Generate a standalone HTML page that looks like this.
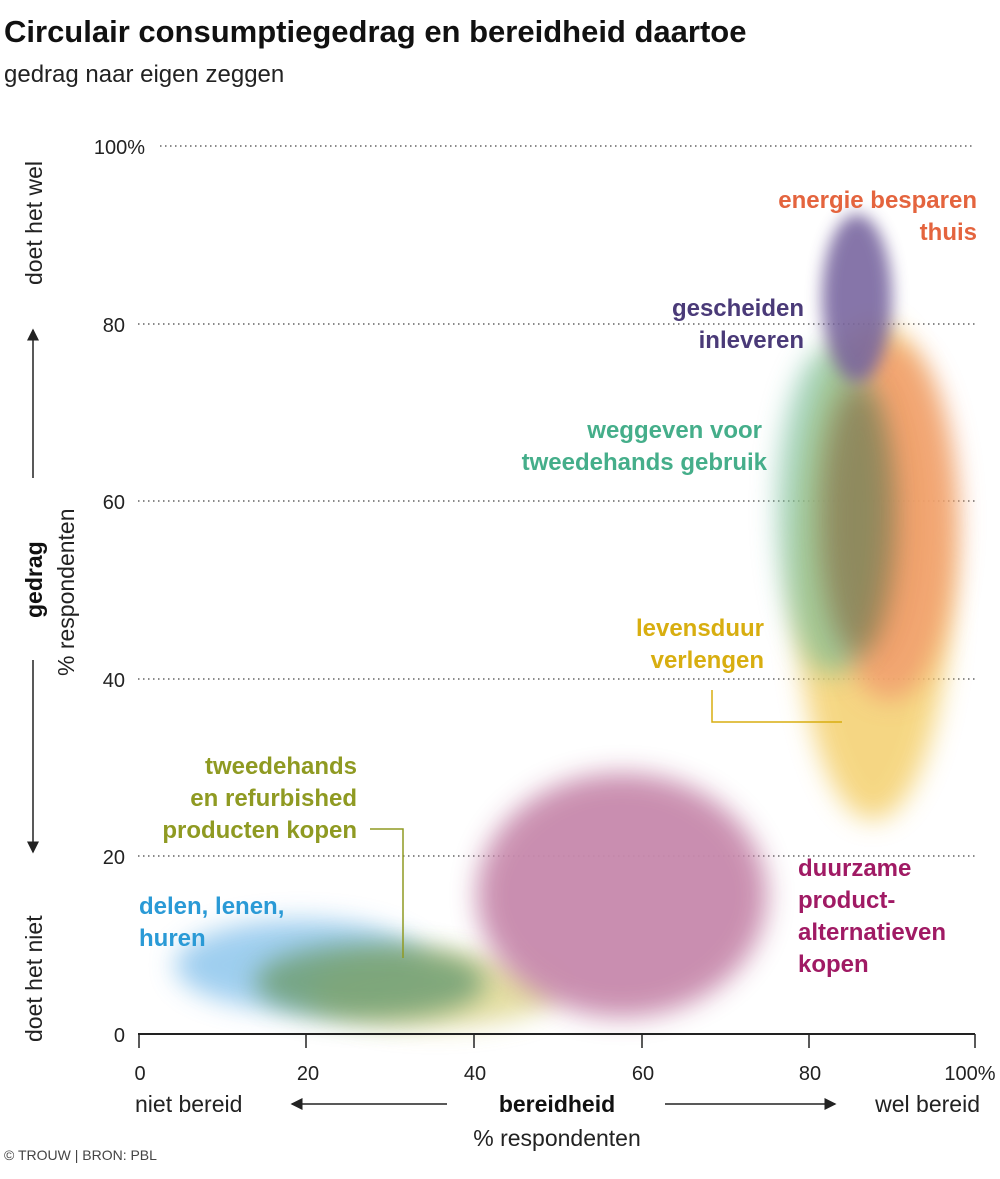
<!DOCTYPE html>
<html><head><meta charset="utf-8"><style>
body{margin:0;background:#fff}
svg text{font-family:"Liberation Sans",sans-serif}
</style></head><body>
<svg width="1000" height="1174" viewBox="0 0 1000 1174" xmlns="http://www.w3.org/2000/svg">
<defs>
<filter id="b" x="-50%" y="-50%" width="200%" height="200%"><feGaussianBlur stdDeviation="13"/></filter>
<filter id="b2" x="-50%" y="-50%" width="200%" height="200%"><feGaussianBlur stdDeviation="8"/></filter>
<marker id="ar" markerWidth="8" markerHeight="8" refX="7" refY="4" orient="auto"><path d="M0,0 L8,4 L0,8z" fill="#222"/></marker>
</defs>
<text x="4" y="42" font-size="31" font-weight="bold" fill="#111">Circulair consumptiegedrag en bereidheid daartoe</text>
<text x="4" y="82" font-size="24" fill="#222">gedrag naar eigen zeggen</text>
<g stroke="#444" stroke-width="1.3" stroke-dasharray="1.5,3.5">
<line x1="160" y1="146" x2="975" y2="146"/><line x1="138" y1="324" x2="975" y2="324"/>
<line x1="138" y1="501" x2="975" y2="501"/><line x1="138" y1="679" x2="975" y2="679"/>
<line x1="138" y1="856" x2="975" y2="856"/>
</g>
<g font-size="20" fill="#222" text-anchor="end">
<text x="145" y="154">100%</text><text x="125" y="332">80</text><text x="125" y="509">60</text>
<text x="125" y="687">40</text><text x="125" y="864">20</text><text x="125" y="1042">0</text>
</g>
<g>
<ellipse cx="300" cy="965" rx="125" ry="45" fill="#94c9ee" opacity="0.9" filter="url(#b)"/>
<ellipse cx="435" cy="990" rx="125" ry="36" fill="#ddd58a" opacity="0.8" filter="url(#b)"/>
<ellipse cx="370" cy="982" rx="115" ry="38" fill="#6f9f74" opacity="0.85" filter="url(#b)"/>
<ellipse cx="622" cy="895" rx="145" ry="122" fill="#c789ac" opacity="0.95" filter="url(#b)"/>
<ellipse cx="873" cy="570" rx="78" ry="250" fill="#f4d06e" opacity="0.85" filter="url(#b)"/>
<ellipse cx="890" cy="520" rx="68" ry="180" fill="#f0946a" opacity="0.75" filter="url(#b)"/>
<ellipse cx="832" cy="510" rx="55" ry="165" fill="#6cbc9c" opacity="0.6" filter="url(#b)"/>
<ellipse cx="860" cy="520" rx="38" ry="135" fill="#7a5a2a" opacity="0.45" filter="url(#b)"/>
<ellipse cx="857" cy="298" rx="35" ry="84" fill="#76649e" opacity="0.88" filter="url(#b2)"/>
</g>
<line x1="138" y1="1034" x2="975" y2="1034" stroke="#222" stroke-width="2"/>
<g stroke="#222" stroke-width="1.5">
<line x1="139" y1="1034" x2="139" y2="1048"/><line x1="306" y1="1034" x2="306" y2="1048"/>
<line x1="474" y1="1034" x2="474" y2="1048"/><line x1="642" y1="1034" x2="642" y2="1048"/>
<line x1="809" y1="1034" x2="809" y2="1048"/><line x1="975" y1="1034" x2="975" y2="1048"/>
</g>
<g font-size="20" fill="#222" text-anchor="middle">
<text x="140" y="1080">0</text><text x="308" y="1080">20</text><text x="475" y="1080">40</text>
<text x="643" y="1080">60</text><text x="810" y="1080">80</text><text x="970" y="1080">100%</text>
</g>
<text x="135" y="1112" font-size="23" fill="#222">niet bereid</text>
<line x1="447" y1="1104" x2="292" y2="1104" stroke="#222" stroke-width="1.5" marker-end="url(#ar)"/>
<text x="557" y="1112" font-size="23" font-weight="bold" fill="#111" text-anchor="middle">bereidheid</text>
<text x="557" y="1146" font-size="23" fill="#222" text-anchor="middle">% respondenten</text>
<line x1="665" y1="1104" x2="835" y2="1104" stroke="#222" stroke-width="1.5" marker-end="url(#ar)"/>
<text x="980" y="1112" font-size="23" fill="#222" text-anchor="end">wel bereid</text>
<text x="4" y="1160" font-size="14" fill="#444">© TROUW | BRON: PBL</text>
<g font-size="23" fill="#222">
<text transform="translate(42,285) rotate(-90)">doet het wel</text>
<text transform="translate(42,1042) rotate(-90)">doet het niet</text>
<text transform="translate(42,618) rotate(-90)" font-weight="bold" fill="#111">gedrag</text>
<text transform="translate(74,676) rotate(-90)">% respondenten</text>
</g>
<line x1="33" y1="478" x2="33" y2="330" stroke="#222" stroke-width="1.5" marker-end="url(#ar)"/>
<line x1="33" y1="660" x2="33" y2="852" stroke="#222" stroke-width="1.5" marker-end="url(#ar)"/>
<g font-size="24" font-weight="bold">
<text x="977" y="208" text-anchor="end" fill="#e4643e">energie besparen</text>
<text x="977" y="240" text-anchor="end" fill="#e4643e">thuis</text>
<text x="804" y="316" text-anchor="end" fill="#4a3a78">gescheiden</text>
<text x="804" y="348" text-anchor="end" fill="#4a3a78">inleveren</text>
<text x="762" y="438" text-anchor="end" fill="#45ae8a">weggeven voor</text>
<text x="767" y="470" text-anchor="end" fill="#45ae8a">tweedehands gebruik</text>
<text x="764" y="636" text-anchor="end" fill="#d8ae10">levensduur</text>
<text x="764" y="668" text-anchor="end" fill="#d8ae10">verlengen</text>
<text x="357" y="774" text-anchor="end" fill="#8f9a22">tweedehands</text>
<text x="357" y="806" text-anchor="end" fill="#8f9a22">en refurbished</text>
<text x="357" y="838" text-anchor="end" fill="#8f9a22">producten kopen</text>
<text x="139" y="914" fill="#2a9ad6">delen, lenen,</text>
<text x="139" y="946" fill="#2a9ad6">huren</text>
<text x="798" y="876" fill="#a01a64">duurzame</text>
<text x="798" y="908" fill="#a01a64">product-</text>
<text x="798" y="940" fill="#a01a64">alternatieven</text>
<text x="798" y="972" fill="#a01a64">kopen</text>
</g>
<polyline points="712,690 712,722 842,722" fill="none" stroke="#d8ae10" stroke-width="1.5"/>
<polyline points="370,829 403,829 403,958" fill="none" stroke="#8f9a22" stroke-width="1.5"/>
</svg>
</body></html>
